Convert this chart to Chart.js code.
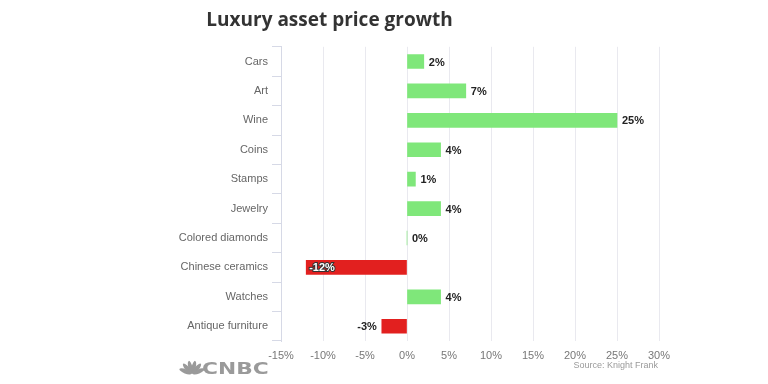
<!DOCTYPE html>
<html>
<head>
<meta charset="utf-8">
<script src="https://cdn.jsdelivr.net/npm/chart.js@4"></script>
<style>
  html, body { margin: 0; padding: 0; background: #fff; }
  #wrap { width: 768px; height: 384px; }
</style>
</head>
<body>
<div id="wrap"><canvas id="chart" width="768" height="384"></canvas></div>
<script>
'use strict';

// ── Data ──────────────────────────────────────────────
const categories = ['Cars', 'Art', 'Wine', 'Coins', 'Stamps', 'Jewelry',
  'Colored diamonds', 'Chinese ceramics', 'Watches', 'Antique furniture'];
const growth = [2, 7, 25, 4, 1, 4, 0, -12, 4, -3];
const xTicks = [-15, -10, -5, 0, 5, 10, 15, 20, 25, 30];

const GREEN = '#7fe77a';
const RED   = '#e2201f';
const FONT  = "'Liberation Sans', Arial, sans-serif";

// ── Value labels next to / inside bars ───────────────
const valueLabels = {
  id: 'valueLabels',
  afterDatasetsDraw(chart) {
    const { ctx, chartArea } = chart;
    const meta = chart.getDatasetMeta(0);
    ctx.save();
    ctx.font = `bold 11px ${FONT}`;
    ctx.textBaseline = 'middle';
    meta.data.forEach((bar, i) => {
      const v = growth[i];
      const txt = v + '%';
      const w = ctx.measureText(txt).width;
      if (v >= 0) {
        ctx.textAlign = 'left';
        ctx.fillStyle = '#222';
        ctx.fillText(txt, bar.x + 5, bar.y + 1);
      } else if (bar.x - 5 - w < chartArea.left) {
        // doesn't fit outside: put inside, white with dark outline
        ctx.textAlign = 'left';
        ctx.lineWidth = 2;
        ctx.strokeStyle = '#333';
        ctx.strokeText(txt, bar.x + 3, bar.y + 1);
        ctx.fillStyle = '#fff';
        ctx.fillText(txt, bar.x + 3, bar.y + 1);
      } else {
        ctx.textAlign = 'right';
        ctx.fillStyle = '#222';
        ctx.fillText(txt, bar.x - 5, bar.y + 1);
      }
    });
    ctx.restore();
  },
};

// ── Footer: logo + source ────────────────────────────
const footer = {
  id: 'footer',
  afterDraw(chart) {
    const { ctx } = chart;
    ctx.save();
    // peacock fan
    ctx.fillStyle = '#9a9a9a';
    const cx = 192, cy = 374;
    for (let k = 0; k < 6; k++) {
      const a = Math.PI * (1.12 + k * 0.152);
      ctx.beginPath();
      ctx.ellipse(cx + 7 * Math.cos(a), cy + 7 * Math.sin(a), 6.5, 2.1, a, 0, Math.PI * 2);
      ctx.fill();
    }
    // wordmark
    ctx.translate(202, 374);
    ctx.scale(1.45, 1);
    ctx.font = `bold 15px 'DejaVu Sans', sans-serif`;
    ctx.textAlign = 'left';
    ctx.textBaseline = 'alphabetic';
    ctx.fillText('CNBC', 0, 0);
    ctx.restore();

    ctx.save();
    ctx.font = `9px ${FONT}`;
    ctx.fillStyle = '#9a9a9a';
    ctx.textAlign = 'right';
    ctx.textBaseline = 'middle';
    ctx.fillText('Source: Knight Frank', 658, 366);
    ctx.restore();
  },
};

new Chart(document.getElementById('chart'), {
  type: 'bar',
  data: {
    labels: categories,
    datasets: [{
      data: growth,
      backgroundColor: growth.map(v => v < 0 ? RED : GREEN),
      borderWidth: 0,
      barThickness: 14,
    }],
  },
  options: {
    indexAxis: 'y',
    responsive: false,
    animation: false,
    layout: { padding: { left: 0, right: 109, top: 0, bottom: 23 } },
    scales: {
      x: {
        min: -15,
        max: 30,
        afterBuildTicks: scale => { scale.ticks = xTicks.map(v => ({ value: v })); },
        afterFit: scale => { scale.height = 20; },
        grid: { color: '#e9e9ef', drawTicks: false },
        border: { display: false },
        ticks: {
          color: '#777',
          font: { family: FONT, size: 11 },
          padding: 8,
          callback: v => v + '%',
        },
      },
      y: {
        afterFit: scale => { scale.width = 281; },
        grid: { drawOnChartArea: false, color: '#d6d9e6', tickLength: 9 },
        border: { color: '#d6d9e6' },
        ticks: {
          color: '#666',
          font: { family: FONT, size: 11 },
          padding: 4,
        },
      },
    },
    plugins: {
      legend: { display: false },
      tooltip: { enabled: false },
      title: {
        display: true,
        text: 'Luxury asset price growth',
        color: '#333',
        font: { family: "'Open Sans', sans-serif", size: 19, weight: 'bold' },
        padding: { top: 9, bottom: 15 },
      },
    },
  },
  plugins: [valueLabels, footer],
});
</script>
</body>
</html>
